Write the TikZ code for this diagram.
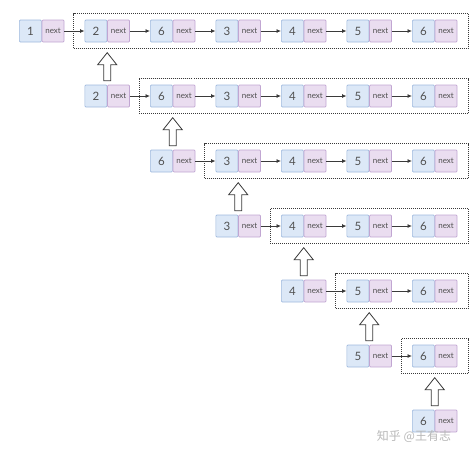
\documentclass[tikz,border=0pt]{standalone}
\usepackage{fontspec}
\setmainfont{Lato}
\newfontfamily\cjk{Noto Sans CJK SC}
\usetikzlibrary{arrows.meta,fit,calc}
\definecolor{valfill}{HTML}{DCE8F7}
\definecolor{valdraw}{HTML}{9FB9DE}
\definecolor{nxtfill}{HTML}{EADDF0}
\definecolor{nxtdraw}{HTML}{C1A6D2}
\definecolor{txt}{HTML}{505050}
\definecolor{lnk}{HTML}{3A3A3A}
\tikzset{
  valbox/.style={draw=valdraw, fill=valfill, line width=0.7pt, rounded corners=1pt, minimum width=22pt, minimum height=22pt, inner sep=0pt, text=txt, font=\fontsize{11.5}{11.5}\selectfont, anchor=west},
  nxtbox/.style={draw=nxtdraw, fill=nxtfill, line width=0.7pt, rounded corners=1pt, minimum width=22pt, minimum height=22pt, inner sep=0pt, text=txt, font=\fontsize{8}{8}\selectfont, anchor=west},
  link/.style={draw=lnk, line width=0.8pt, -{Latex[length=4.5pt,width=4pt]}},
  dotbox/.style={draw=lnk, line width=0.8pt, dash pattern=on 1pt off 1pt, inner xsep=11pt, inner ysep=6pt},
  hollow/.style={draw=lnk, line width=0.8pt, fill=white, line join=miter}
}
\begin{document}
\begin{tikzpicture}[x=1pt,y=-1pt]
\useasboundingbox (0,0) rectangle (474,451);
\def\vals{{1,2,6,3,4,5,6}}
\foreach \r in {0,...,6}{
  \foreach \c in {\r,...,6}{
    \pgfmathsetmacro{\xx}{19+65.5*\c}
    \pgfmathsetmacro{\yy}{31+65*\r}
    \pgfmathtruncatemacro{\vv}{\vals[\c]}
    \node[valbox] (v-\r-\c) at (\xx,\yy) {\vv};
    \node[nxtbox] (n-\r-\c) at (v-\r-\c.east) {next};
  }
  \ifnum\r<6
    \foreach \c in {\r,...,5}{
      \pgfmathtruncatemacro{\d}{\c+1}
      \draw[link] (n-\r-\c.east) -- (v-\r-\d.west);
    }
    \pgfmathtruncatemacro{\s}{\r+1}
    \node[dotbox, fit=(v-\r-\s) (n-\r-6)] (box-\r) {};
  \fi
}
% hollow up arrows
\foreach \r in {1,...,6}{
  \coordinate (u-\r) at ($(v-\r-\r.north east)+(0,-4)$);
  \draw[hollow] (u-\r) ++(-3.5,0) -- ++(0,-16) -- ++(-6,0) -- ++(9.5,-12) -- ++(9.5,12) -- ++(-6,0) -- ++(0,16) -- cycle;
}
\node[text=black!28, font=\cjk\fontsize{12}{12}\selectfont] (wm) at (414,436) {知乎 @王有志};
\end{tikzpicture}
\end{document}
